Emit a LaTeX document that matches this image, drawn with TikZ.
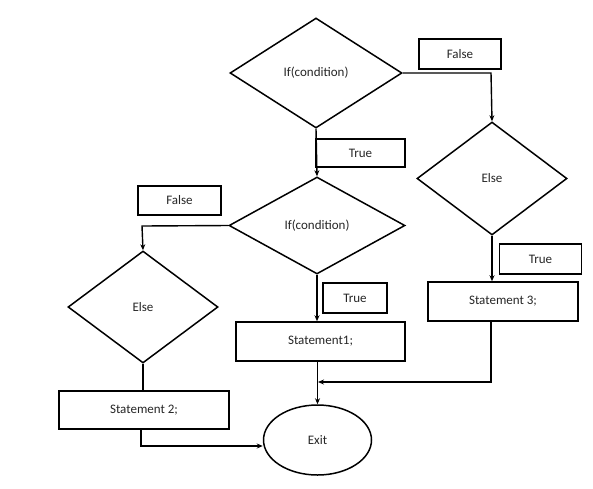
\documentclass[tikz,border=0pt]{standalone}
\usepackage{fontspec}
\setmainfont{Carlito}
\usetikzlibrary{shapes.geometric,arrows.meta}
\begin{document}
\begin{tikzpicture}[x=1pt,y=-1pt,
  every node/.style={font=\fontsize{13}{15}\selectfont, text=black!85},
  dia/.style={draw, diamond, line width=1.5pt, inner sep=0pt},
  box/.style={draw, rectangle, line width=1.5pt, inner sep=0pt},
  lbl/.style={draw, rectangle, line width=1.5pt, inner sep=0pt},
  oval/.style={draw, ellipse, line width=1.5pt, inner sep=0pt},
  conn/.style={line width=1.4pt, -{Stealth[length=6pt,width=5pt]}},
  plain/.style={line width=1.4pt}]
\useasboundingbox (0,0) rectangle (593,488);
\fill[white] (0,0) rectangle (593,488);
% decisions
\node[dia, minimum width=172pt, minimum height=110pt] (d1) at (316,73) {If(condition)};
\node[dia, minimum width=176pt, minimum height=97pt] (d2) at (317,225.5) {If(condition)};
\node[dia, minimum width=150pt, minimum height=113pt] (e1) at (492,178.5) {Else};
\node[dia, minimum width=150pt, minimum height=112pt] (e2) at (143,307) {Else};
% labels
\node[lbl, minimum width=82pt, minimum height=30pt] (f1) at (460,54) {False};
\node[lbl, minimum width=89pt, minimum height=28pt] (t1) at (360.5,153) {True};
\node[lbl, minimum width=83pt, minimum height=29pt] (f2) at (179.5,200.5) {False};
\node[lbl, minimum width=64pt, minimum height=30pt] (t2) at (355,298) {True};
\node[lbl, minimum width=82pt, minimum height=30pt] (t3) at (540.5,259) {True};
% statements
\node[box, minimum width=169pt, minimum height=39pt] (s1) at (320.5,341.5) {Statement1;};
\node[box, minimum width=170pt, minimum height=38pt] (s2) at (144,410) {Statement 2;};
\node[box, minimum width=150pt, minimum height=39pt] (s3) at (503,301.5) {Statement 3;};
\node[oval, minimum width=108pt, minimum height=70pt] (ex) at (317.5,440) {Exit};
% connectors
\coordinate (c1) at (491,73);
\coordinate (c2) at (142,226);
\coordinate (c3) at (141,446);
\coordinate (c4) at (491,382);
\coordinate (c5) at (318,382);
\draw[conn] (d1.east) -- (c1) -- (e1.north);
\draw[conn] (d1.south) -- (d2.north);
\draw[conn] (d2.west) -- (c2) -- (e2.north);
\draw[conn] (d2.south) -- (d2.south |- s1.north);
\draw[plain] (e2.south) -- (e2.south |- s2.north);
\draw[conn] (e1.south) -- (e1.south |- s3.north);
\draw[conn] (s3.south -| c4) -- (c4) -- (c5);
\draw[conn] (s1.south -| ex.north) -- (ex.north);
\draw[conn] (s2.south -| c3) -- (c3) -- (ex.west |- c3);
\end{tikzpicture}
\end{document}
